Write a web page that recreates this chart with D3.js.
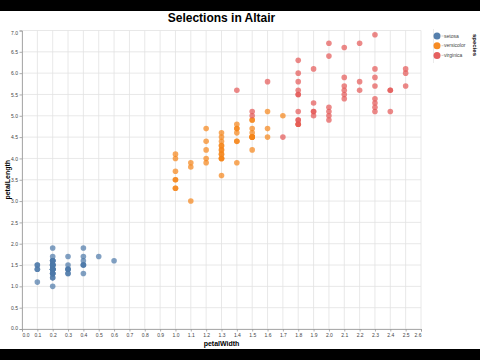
<!DOCTYPE html>
<html><head><meta charset="utf-8">
<script src="https://cdn.jsdelivr.net/npm/d3@7"></script>
<style>body{margin:0;background:#fff}svg{display:block}text{font-family:"Liberation Sans",Arial,sans-serif}</style>
</head><body>
<svg id="c" width="480" height="360"></svg>
<script>
const speciesNames = ["setosa","versicolor","virginica"];
const speciesColors = ["#4c78a8","#f58518","#e45756"];
const setosaPetalLength = [1.4,1.4,1.3,1.5,1.4,1.7,1.4,1.5,1.4,1.5,1.5,1.6,1.4,1.1,1.2,1.5,1.3,1.4,1.7,1.5,1.7,1.5,1.0,1.7,1.9,1.6,1.6,1.5,1.4,1.6,1.6,1.5,1.5,1.4,1.5,1.2,1.3,1.4,1.3,1.5,1.3,1.3,1.3,1.6,1.9,1.4,1.6,1.4,1.5,1.4];
const setosaPetalWidth  = [0.2,0.2,0.2,0.2,0.2,0.4,0.3,0.2,0.2,0.1,0.2,0.2,0.1,0.1,0.2,0.4,0.4,0.3,0.3,0.3,0.2,0.4,0.2,0.5,0.2,0.2,0.4,0.2,0.2,0.2,0.2,0.4,0.1,0.2,0.2,0.2,0.2,0.1,0.2,0.2,0.3,0.3,0.2,0.6,0.4,0.3,0.2,0.2,0.2,0.2];
const versicolorPetalLength = [4.7,4.5,4.9,4.0,4.6,4.5,4.7,3.3,4.6,3.9,3.5,4.2,4.0,4.7,3.6,4.4,4.5,4.1,4.5,3.9,4.8,4.0,4.9,4.7,4.3,4.4,4.8,5.0,4.5,3.5,3.8,3.7,3.9,5.1,4.5,4.5,4.7,4.4,4.1,4.0,4.4,4.6,4.0,3.3,4.2,4.2,4.2,4.3,3.0,4.1];
const versicolorPetalWidth  = [1.4,1.5,1.5,1.3,1.5,1.3,1.6,1.0,1.3,1.4,1.0,1.5,1.0,1.4,1.3,1.4,1.5,1.0,1.5,1.1,1.8,1.3,1.5,1.2,1.3,1.4,1.4,1.7,1.5,1.0,1.1,1.0,1.2,1.6,1.5,1.6,1.5,1.3,1.3,1.3,1.2,1.4,1.2,1.0,1.3,1.2,1.3,1.3,1.1,1.3];
const virginicaPetalLength = [6.0,5.1,5.9,5.6,5.8,6.6,4.5,6.3,5.8,6.1,5.1,5.3,5.5,5.0,5.1,5.3,5.5,6.7,6.9,5.0,5.7,4.9,6.7,4.9,5.7,6.0,4.8,4.9,5.6,5.8,6.1,6.4,5.6,5.1,5.6,6.1,5.6,5.5,4.8,5.4,5.6,5.1,5.1,5.9,5.7,5.2,5.0,5.2,5.4,5.1];
const virginicaPetalWidth  = [2.5,1.9,2.1,1.8,2.2,2.1,1.7,1.8,1.8,2.5,2.0,1.9,2.1,2.0,2.4,2.3,1.8,2.2,2.3,1.5,2.3,2.0,2.0,1.8,2.1,1.8,1.8,1.8,2.1,1.6,1.9,2.0,2.2,1.5,1.4,2.3,2.4,1.8,1.8,2.1,2.4,2.3,1.9,2.3,2.5,2.3,1.9,2.0,2.3,1.8];
const xTicks = [0.0,0.1,0.2,0.3,0.4,0.5,0.6,0.7,0.8,0.9,1.0,1.1,1.2,1.3,1.4,1.5,1.6,1.7,1.8,1.9,2.0,2.1,2.2,2.3,2.4,2.5,2.6];
const yTicks = [0.0,0.5,1.0,1.5,2.0,2.5,3.0,3.5,4.0,4.5,5.0,5.5,6.0,6.5,7.0];

const points = [];
[[setosaPetalWidth,setosaPetalLength],[versicolorPetalWidth,versicolorPetalLength],[virginicaPetalWidth,virginicaPetalLength]]
  .forEach(([w,l],si)=>w.forEach((v,i)=>points.push({w:v,l:l[i],s:speciesNames[si]})));

const svg = d3.select("#c");
svg.append("rect").attr("width",480).attr("height",360).attr("fill","#fff");

const x = d3.scaleLinear().domain([0,2.6]).range([22,421]);
const y = d3.scaleLinear().domain([0,7]).range([329,30.5]);
const color = d3.scaleOrdinal().domain(speciesNames).range(speciesColors);

// grid
const g = svg.append("g");
g.selectAll(".gx").data(xTicks).join("line")
  .attr("x1",d=>x(d)).attr("x2",d=>x(d)).attr("y1",y(0)).attr("y2",y(7))
  .attr("stroke","#e2e2e2").attr("stroke-width",0.8);
g.selectAll(".gy").data(yTicks).join("line")
  .attr("y1",d=>y(d)).attr("y2",d=>y(d)).attr("x1",x(0)).attr("x2",x(2.6))
  .attr("stroke","#e2e2e2").attr("stroke-width",0.8);

// axes
const xAxis = svg.append("g").attr("transform",`translate(0,${y(0)})`)
  .call(d3.axisBottom(x).tickValues(xTicks).tickFormat(d3.format(".1f")).tickSize(2.5).tickPadding(1.5));
const yAxis = svg.append("g").attr("transform",`translate(${x(0)},0)`)
  .call(d3.axisLeft(y).tickValues(yTicks).tickFormat(d3.format(".1f")).tickSize(2.5).tickPadding(1.5));
[xAxis,yAxis].forEach(a=>{
  a.select(".domain").attr("stroke","#999").attr("stroke-width",0.8);
  a.selectAll(".tick line").attr("stroke","#999").attr("stroke-width",0.8);
  a.selectAll("text").attr("font-size",5).attr("fill","#444").style("font-family","Liberation Sans, Arial, sans-serif");
});
// label flush
xAxis.selectAll(".tick text").filter(d=>d===0).attr("text-anchor","start");
xAxis.selectAll(".tick text").filter(d=>d===2.6).attr("text-anchor","end");
yAxis.selectAll(".tick text").filter(d=>d===0).attr("dy","0");
yAxis.selectAll(".tick text").filter(d=>d===7).attr("dy","0.7em");

// points
svg.append("g").selectAll("circle").data(points).join("circle")
  .attr("cx",d=>x(d.w)).attr("cy",d=>y(d.l)).attr("r",2.8)
  .attr("fill",d=>color(d.s)).attr("fill-opacity",0.7);

// titles
svg.append("text").attr("x",(x(0)+x(2.6))/2).attr("y",22).attr("text-anchor","middle")
  .attr("font-size",12).attr("font-weight","bold").attr("fill","#000").text("Selections in Altair");
svg.append("text").attr("x",(x(0)+x(2.6))/2).attr("y",345.5).attr("text-anchor","middle")
  .attr("font-size",7).attr("font-weight","bold").attr("fill","#000").text("petalWidth");
svg.append("text").attr("transform",`translate(10,${(y(0)+y(7))/2}) rotate(-90)`).attr("text-anchor","middle")
  .attr("font-size",7).attr("font-weight","bold").attr("fill","#000").text("petalLength");

// legend
const lg = svg.append("g");
lg.append("line").attr("x1",433.5).attr("x2",433.5).attr("y1",29).attr("y2",63).attr("stroke","#e6e6e6").attr("stroke-width",0.8);
const items = lg.selectAll("g").data(speciesNames).join("g")
  .attr("transform",(d,i)=>`translate(437,${36+i*9.7})`);
items.append("circle").attr("r",3.5).attr("fill",d=>color(d)).attr("fill-opacity",0.95);
items.append("line").attr("x1",4.5).attr("x2",6.5).attr("stroke","#aaa").attr("stroke-width",0.6);
items.append("text").attr("x",7).attr("dy","0.35em").attr("font-size",5).attr("fill","#444").text(d=>d);
lg.append("text").attr("transform","translate(473,45) rotate(90)").attr("text-anchor","middle")
  .attr("font-size",6).attr("font-weight","bold").attr("fill","#000").text("species");

// letterbox bars
svg.append("rect").attr("x",0).attr("y",0).attr("width",480).attr("height",11).attr("fill","#000");
svg.append("rect").attr("x",0).attr("y",349).attr("width",480).attr("height",11).attr("fill","#000");
</script>
</body></html>
